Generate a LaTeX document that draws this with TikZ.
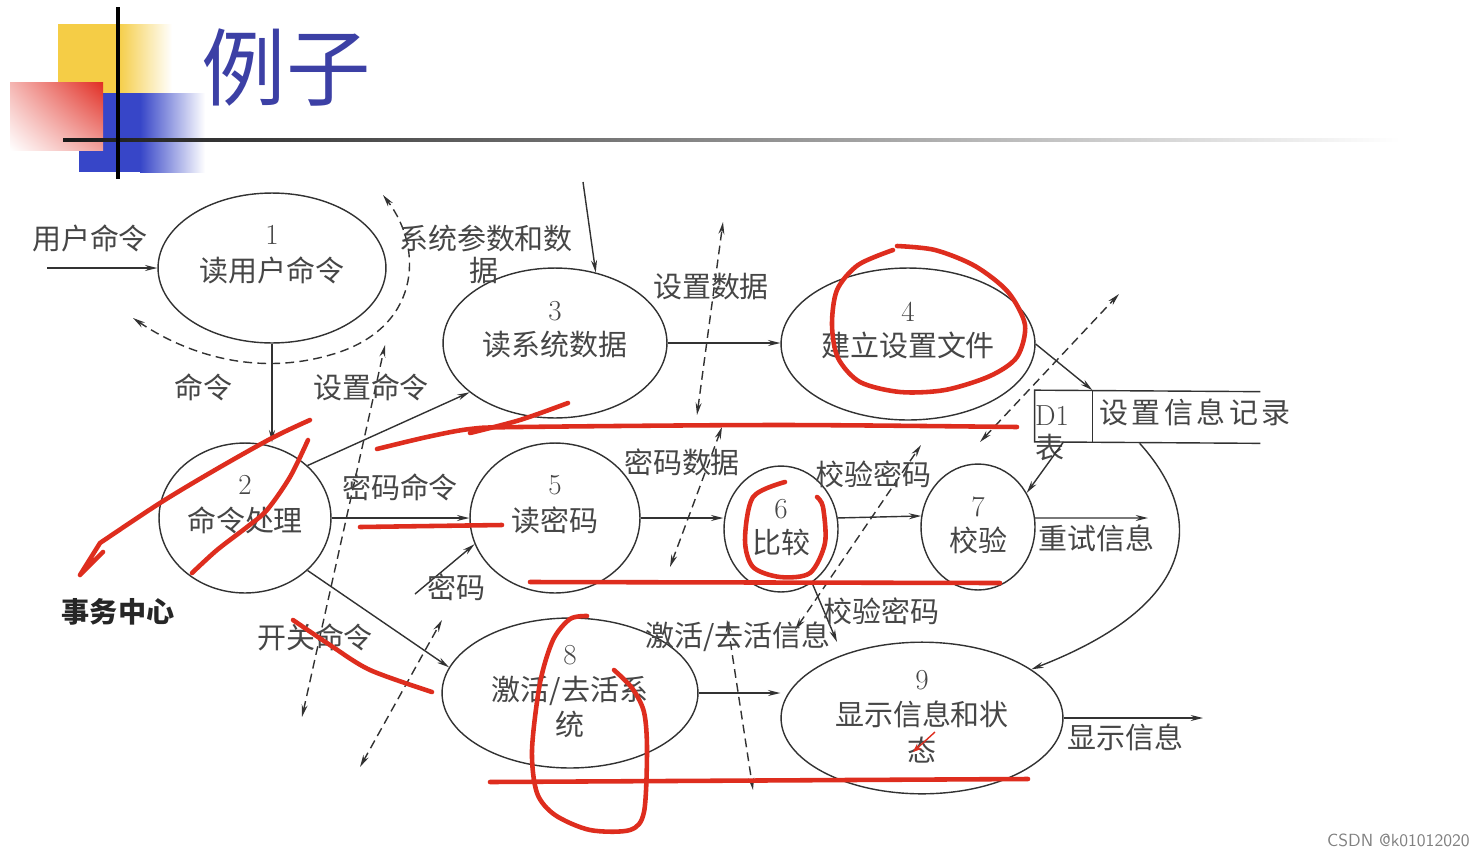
\documentclass[tikz,border=0pt]{standalone}
\usepackage{fontspec}
\newfontfamily\cjk{Noto Sans CJK SC}
\usetikzlibrary{shapes.geometric,arrows.meta,shadings}

\definecolor{linec}{RGB}{50,50,50}
\definecolor{txtc}{RGB}{70,70,70}
\definecolor{penred}{RGB}{222,45,30}
\definecolor{titleblue}{RGB}{60,64,165}
\definecolor{sqyellow}{RGB}{245,205,70}
\definecolor{sqblue}{RGB}{55,70,200}
\definecolor{sqred}{RGB}{225,45,35}

\newcommand{\zh}[1]{{\cjk #1}}

\tikzset{
  proc/.style n args={2}{ellipse, draw=linec, line width=0.8pt, inner sep=0pt,
    minimum width=#1*0.04cm, minimum height=#2*0.04cm, align=center,
    text=txtc, font=\fontsize{16.5}{20}\selectfont},
  flow/.style={draw=linec, line width=0.8pt, ->},
  cut/.style={draw=linec, line width=0.8pt, dash pattern=on 5pt off 3pt, <->},
  lbl/.style={text=txtc, font=\fontsize{16.5}{20}\selectfont\cjk, inner sep=0pt},
  pen/.style={draw=penred, line width=2.6pt, line cap=round, line join=round},
}

\begin{document}
\begin{tikzpicture}[x=0.02cm, y=-0.02cm, >={Stealth[length=7pt,width=3.4pt]}]
\useasboundingbox (0,0) rectangle (1484,856);
\fill[white] (0,0) rectangle (1484,856);

% title bar
\fill[sqyellow] (58,24) rectangle (118,93);
\shade[left color=sqyellow, right color=white] (118,24) rectangle (172,93);
\fill[sqblue] (79,93) rectangle (140,172);
\shade[left color=sqblue, right color=white] (140,93) rectangle (205,172);
\shade[upper right=sqred, upper left=sqred!35, lower left=white, lower right=sqred!45] (10,82) rectangle (103,150);
\shade[left color=black!90, middle color=black!55, right color=white] (63,138) rectangle (1400,141);
\fill[black] (116,7) rectangle (120,179);
\node[text=titleblue, font=\fontsize{48}{50}\selectfont\cjk] (title) at (286,68) {例子};

% processes
\node[proc={114}{75}] (n1) at (272,268) {\strut 1\\\strut\zh{读用户命令}\\\mbox{}};
\node[proc={86}{75}] (n2) at (245,518) {\strut 2\\\strut\zh{命令处理}\\\mbox{}};
\node[proc={112}{75}] (n3) at (555,343) {\strut 3\\\strut\zh{读系统数据}\\\mbox{}};
\node[proc={127}{76}] (n4) at (908,344) {\strut 4\\\strut\zh{建立设置文件}\\\mbox{}};
\node[proc={85}{75}] (n5) at (555,518) {\strut 5\\\strut\zh{读密码}\\\mbox{}};
\node[proc={57}{63}] (n6) at (781,529) {\strut 6\\\strut\zh{比较}};
\node[proc={57}{63}] (n7) at (978,527) {\strut 7\\\strut\zh{校验}};
\node[proc={128}{75}] (n8) at (570,693) {\strut 8\\\strut\zh{激活/去活系}\\\strut\zh{统}};
\node[proc={141}{75}] (n9) at (922,718) {\strut 9\\\strut\zh{显示信息和状}\\\strut\zh{态}};

% data store
\node[inner sep=0pt, minimum width=1.14cm, minimum height=1.02cm, text width=1.14cm, align=left,
  text=txtc, font=\fontsize{16.5}{20}\selectfont] (d1id) at (1063.5,416) {D1};
\node[inner sep=0pt, minimum width=3.36cm, minimum height=1.02cm] (d1name) at (1176,417.5) {};
\draw[linec, line width=0.8pt] (d1name.north east) -- (d1id.north west) -- (d1id.south west) -- (d1name.south east);
\draw[linec, line width=0.8pt] (d1id.north east) -- (d1id.south east);
\node[lbl, font=\fontsize{16.5}{20}\selectfont\cjk\addfontfeature{LetterSpace=12}] (d1txt) at (1195,412) {设置信息记录};
\node[lbl] (d1tail) at (1050,447) {表};
\node[font=\fontsize{16}{18}\selectfont\cjk\bfseries, text=black!85, inner sep=0pt] (center) at (118,612) {事务中心};

% free ends
\coordinate (in1) at (47,268);
\coordinate (src3) at (583,182);
\coordinate (pw5) at (415,594);
\coordinate (ck9) at (837,642);
\coordinate (out7) at (1148,518);
\coordinate (out9) at (1203,718);

% data flows
\draw[flow] (in1) -- (n1.west);
\draw[flow] (n1.south) -- (n1.south |- n2.north);
\draw[flow] (src3) -- (n3.60);
\draw[flow] (n2.40) -- (n3.210);
\draw[flow] (n3.east) -- (n3.east -| n4.west);
\draw[flow] (n4.east) -- (d1id.north east);
\draw[flow] (n2.east) -- (n5.west);
\draw[flow] (pw5) -- (n5.198);
\draw[flow] (n5.east) -- (n5.east -| n6.west);
\draw[flow] (n6.11) -- (n7.169);
\draw[flow] (n7.9) -- (out7);
\draw[flow] (d1id.south) -- (n7.35);
\draw[flow] ([xshift=0.96cm]d1name.south west) .. controls (1200,510) and (1210,600) .. (n9.24);
\draw[flow] (n2.-40) -- (n8.168);
\draw[flow] (n6.-60) -- (ck9);
\draw[flow] (n8.east) -- (n8.east -| n9.west);
\draw[flow] (n9.east) -- (out9);

% cut lines
\coordinate (c1a) at (383,195); \coordinate (c1b) at (133,318);
\coordinate (c2a) at (302,717); \coordinate (c2b) at (385,345);
\coordinate (c3a) at (360,767); \coordinate (c3b) at (442,620);
\coordinate (c4a) at (697,415); \coordinate (c4b) at (723,222);
\coordinate (c5a) at (670,567); \coordinate (c5b) at (722,427);
\coordinate (c6a) at (795,630); \coordinate (c6b) at (921,445);
\coordinate (c7a) at (727,620); \coordinate (c7b) at (753,790);
\coordinate (c8a) at (980,442); \coordinate (c8b) at (1119,294);
\draw[cut] (c1b) .. controls (180,350) and (250,378) .. (330,355) .. controls (420,330) and (425,250) .. (c1a);
\draw[cut] (c2a) -- (c2b);
\draw[cut] (c3a) -- (c3b);
\draw[cut] (c4a) -- (c4b);
\draw[cut] (c5a) -- (c5b);
\draw[cut] (c6a) -- (c6b);
\draw[cut] (c7a) -- (c7b);
\draw[cut] (c8a) -- (c8b);

% flow labels
\node[lbl] (lusr) at (90,238) {用户命令};
\node[lbl] (lcmd) at (203,387) {命令};
\node[lbl] (lsys) at (486,238) {系统参数和数};
\node[lbl] (lsys2) at (484,271) {据};
\node[lbl] (lset) at (371,387) {设置命令};
\node[lbl] (lsetd) at (711,287) {设置数据};
\node[lbl] (lpwc) at (400,487) {密码命令};
\node[lbl] (lpw) at (456,587) {密码};
\node[lbl] (lpwd) at (682,462) {密码数据};
\node[lbl] (lchk) at (873,474) {校验密码};
\node[lbl] (lretry) at (1096,538) {重试信息};
\node[lbl] (lchk2) at (881,611) {校验密码};
\node[lbl] (lact) at (738,637) {激活/去活信息};
\node[lbl] (lsw) at (315,637) {开关命令};
\node[lbl] (lshow) at (1125,737) {显示信息};

% red pen marks
\draw[pen] plot[smooth] coordinates {(310,420) (272,438) (215,470) (160,503) (100,543)} -- (80,575) -- (103,552);
\draw[pen] plot[smooth] coordinates {(308,440) (290,477) (267,510) (247,527) (217,550) (192,573)};
\draw[pen] plot[smooth] coordinates {(377,449) (427,437) (470,429) (520,427) (780,425) (1017,427)};
\draw[pen] plot[smooth] coordinates {(470,433) (520,420) (568,403)};
\draw[pen] (360,527) -- (502,525);
\draw[pen] (530,582) -- (1000,583);
\draw[pen] plot[smooth] coordinates {(785,482) (753,497) (745,540) (753,567) (780,577) (810,573) (825,543) (823,507) (817,497)};
\draw[pen] plot[smooth] coordinates {(293,620) (330,645) (370,670) (432,692)};
\draw[pen] plot[smooth] coordinates {(587,616) (570,619) (553,640) (540,683) (532,750) (537,793) (555,815) (590,830) (630,830) (644,812) (647,750) (644,712) (632,688) (614,670)};
\draw[pen] (490,782) -- (1028,779);
\draw[pen] plot[smooth] coordinates {(897,246) (935,250) (975,266) (1008,292) (1025,325) (1017,357) (990,376) (945,390) (900,392) (860,382) (838,358) (832,325) (837,290) (858,265) (893,250)};
\draw[penred, line width=0.8pt, -{Stealth[length=5pt,width=4pt]}] (935,732) -- (913,752);

\node[text=gray, font=\sffamily\fontsize{10}{12}\selectfont, anchor=east, inner sep=0pt] (wm) at (1470,840) {CSDN @k01012020};
\end{tikzpicture}
\end{document}
